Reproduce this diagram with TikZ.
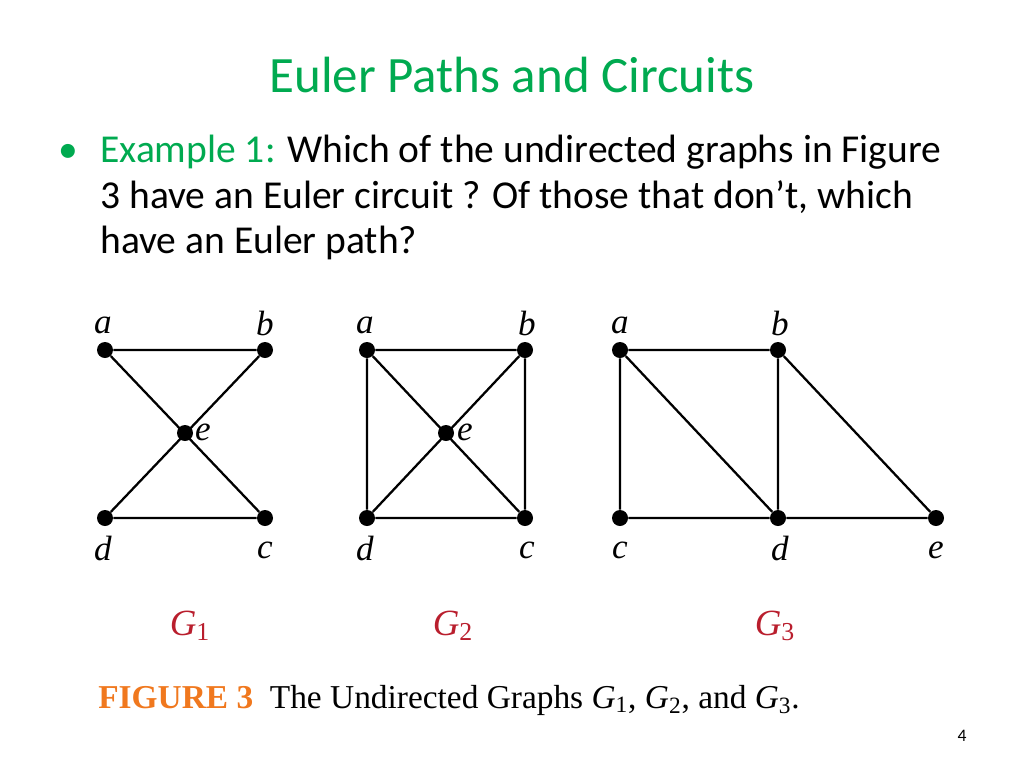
\documentclass[tikz,border=0pt]{standalone}
\usepackage{fontspec}
\setmainfont{Carlito}
\newfontfamily\tnr{Liberation Serif}
\definecolor{tgreen}{RGB}{0,170,80}
\definecolor{gred}{RGB}{185,30,45}
\definecolor{forange}{RGB}{240,120,30}
\begin{document}
\begin{tikzpicture}[x=0.02cm,y=-0.02cm,
  vtx/.style={circle,fill=black,inner sep=0pt,minimum size=0.32cm},
  lbl/.style={font=\tnr\fontsize{20}{22}\selectfont\itshape},
  gl/.style={font=\tnr\fontsize{21}{24}\selectfont\itshape,text=gred},
  ed/.style={line width=1.3pt}]
\useasboundingbox (0,0) rectangle (1024,768);
\node[text=tgreen,font=\fontsize{29}{32}\selectfont] (title) at (512,75) {Euler Paths and Circuits};
\node[anchor=base west,font=\fontsize{22.5}{26}\selectfont,text=tgreen] (bul) at (52,162) {\textbullet};
\node[anchor=base west,font=\fontsize{22.5}{26}\selectfont,inner sep=0pt] (l1) at (100,162) {\textcolor{tgreen}{Example 1:} Which of the undirected graphs in Figure};
\node[anchor=base west,font=\fontsize{22.5}{26}\selectfont,inner sep=0pt] (l2) at (100,208) {3 have an Euler circuit ? Of those that don’t, which};
\node[anchor=base west,font=\fontsize{22.5}{26}\selectfont,inner sep=0pt] (l3) at (100,253) {have an Euler path?};
% G1
\node[vtx] (a1) at (105,350) {}; \node[vtx] (b1) at (265,350) {};
\node[vtx] (e1) at (185,433) {}; \node[vtx] (d1) at (105,518) {}; \node[vtx] (c1) at (265,518) {};
\draw[ed] (a1)--(b1) (a1)--(c1) (b1)--(d1) (d1)--(c1);
\node[lbl] (la1) at (103,325) {a}; \node[lbl] (lb1) at (265,323) {b};
\node[lbl] (le1) at (203,432) {e};
\node[lbl] (ld1) at (103,548) {d}; \node[lbl] (lc1) at (265,550) {c};
% G2
\node[vtx] (a2) at (367,350) {}; \node[vtx] (b2) at (525,350) {};
\node[vtx] (e2) at (446,433) {}; \node[vtx] (d2) at (367,518) {}; \node[vtx] (c2) at (525,518) {};
\draw[ed] (a2)--(b2)--(c2)--(d2)--(a2) (a2)--(c2) (b2)--(d2);
\node[lbl] (la2) at (365,325) {a}; \node[lbl] (lb2) at (527,323) {b};
\node[lbl] (le2) at (465,432) {e};
\node[lbl] (ld2) at (365,548) {d}; \node[lbl] (lc2) at (527,550) {c};
% G3
\node[vtx] (a3) at (620,350) {}; \node[vtx] (b3) at (778,350) {};
\node[vtx] (c3) at (620,518) {}; \node[vtx] (d3) at (778,518) {}; \node[vtx] (e3) at (936,518) {};
\draw[ed] (a3)--(b3) (a3)--(c3) (a3)--(d3) (b3)--(d3) (b3)--(e3) (c3)--(d3)--(e3);
\node[lbl] (la3) at (620,325) {a}; \node[lbl] (lb3) at (780,323) {b};
\node[lbl] (lc3) at (620,550) {c}; \node[lbl] (ld3) at (780,548) {d}; \node[lbl] (le3) at (936,550) {e};
% captions
\node[gl] (g1) at (190,626) {G\textsubscript{\upshape 1}};
\node[gl] (g2) at (453,626) {G\textsubscript{\upshape 2}};
\node[gl] (g3) at (775,626) {G\textsubscript{\upshape 3}};
\node[anchor=base west,inner sep=0pt,font=\tnr\fontsize{19}{22}\selectfont] (cap) at (98,708)
 {\textcolor{forange}{\bfseries FIGURE 3}\enspace The Undirected Graphs \textit{G}\textsubscript{1}, \textit{G}\textsubscript{2}, and \textit{G}\textsubscript{3}.};
\node[font=\fontsize{10}{11}\selectfont] (pg) at (962,736) {4};
\end{tikzpicture}
\end{document}
